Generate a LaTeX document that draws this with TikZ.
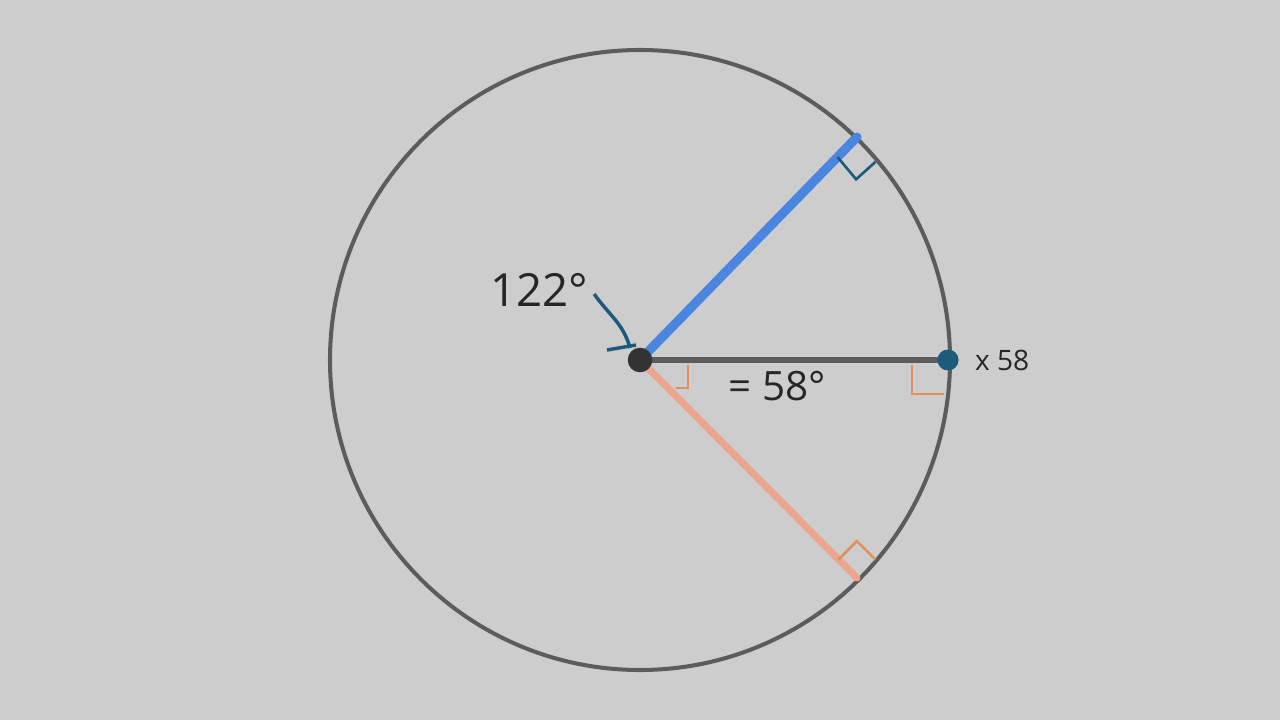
\documentclass[tikz,border=0pt]{standalone}
\usepackage{fontspec}
\setmainfont{Open Sans}
\usepackage{tikz}
\usetikzlibrary{calc, positioning}
\definecolor{bggray}{HTML}{CDCDCD}
\definecolor{rimgray}{HTML}{5C5C5C}
\definecolor{radblue}{HTML}{4A86E0}
\definecolor{radsalmon}{HTML}{EDA590}
\definecolor{markorange}{HTML}{E0905A}
\definecolor{markteal}{HTML}{1E5A7C}

\begin{document}
\begin{tikzpicture}[x=0.02cm, y=0.02cm]
		%% background and frame
		\fill[bggray] (0,0) rectangle (1280,720);
		\useasboundingbox (0,0) rectangle (1280,720);
		\draw[rimgray, line width=2.3pt] (640,360) circle (310);
		
		\coordinate (O) at (640,360);
		\coordinate (A) at (857,583);
		\coordinate (B) at (948,360);
		\coordinate (C) at (857,142);
		
		\draw[radsalmon, line width=4pt, line cap=round] (O) -- (C);
		\draw[rimgray, line width=3.3pt] (O) -- (B);
		\draw[radblue, line width=5.2pt, line cap=round] (O) -- (A);
		
		%% right angle marks
		\draw[markteal, line width=1.5pt] ($(A)!0.09!(O)$) -- ++(-50:29) -- ++(42:26);
		\draw[markorange, line width=1.5pt] ($(C)!0.085!(O)$) -- ++(45:26) -- ++(-45:26);
		\draw[markorange, line width=1.5pt] ($(B)+(-36,-5)$) -- ++(0,-29) -- ++(32,0);
		\draw[markorange, line width=1.5pt] (688,355) -- (688,332) -- (676,332);
		
		\node[circle, fill=black!80, inner sep=0pt, minimum size=14] (Odot) at (O) {};
		\node[circle, fill=markteal, inner sep=0pt, minimum size=12] (Bdot) at (B) {};
		
		%% labels
		\node[text=black!85, font=\fontsize{26}{28}\selectfont] (lbl122) at (539,430) {122°};
		\node[text=black!85, font=\fontsize{23}{26}\selectfont] (lbl58) at (777,334) {= 58°};
		\node[text=black!85, font=\fontsize{16}{18}\selectfont, right=10 of Bdot] (lblx) {x 58};
		
		\draw[markteal, line width=2pt] ($(lbl122.east)+(0,-4)$) to[out=-55, in=105] ($(Odot)+(-10,12)$);
		\draw[markteal, line width=2pt] ($(Odot)+(-33,10)$) -- ($(Odot)+(-4,15)$);
		\end{tikzpicture}
\end{document}
